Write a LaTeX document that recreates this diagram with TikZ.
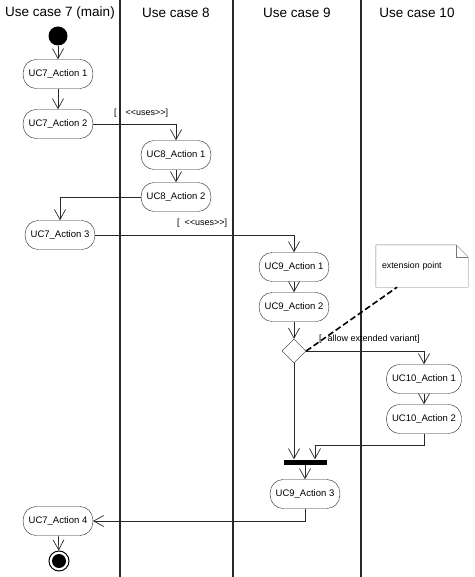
\documentclass[tikz,border=0pt]{standalone}
\usepackage{fontspec}
\setmainfont{Liberation Sans}
\usetikzlibrary{
  arrows.meta,
  shapes.geometric,
  positioning,
  calc
}
\definecolor{umlline}{RGB}{40,40,40}
\definecolor{umlnote}{RGB}{120,120,120}

\begin{document}
\begin{tikzpicture}[
  x=1pt, y=-1pt,
  act/.style={draw=umlline, fill=white, rounded corners=13pt, minimum height=29pt, inner xsep=5.5pt, font=\fontsize{9.5}{11}\selectfont},
  flow/.style={-{Straight Barb[length=10pt,width=11pt]}, umlline, line width=0.7pt},
  lane/.style={umlline, line width=1.3pt},
  hdr/.style={font=\fontsize{13.5}{16}\selectfont},
  grd/.style={font=\fontsize{9}{10}\selectfont, anchor=west, inner sep=1pt},
  initial/.style={circle, fill=black, minimum size=19pt, inner sep=0pt},
  fnode/.style={circle, draw=black, line width=1pt, minimum size=20pt, inner sep=0pt,
    path picture={\fill[black] (path picture bounding box.center) circle (7pt);}},
  link/.style={line width=1.6pt, dash pattern=on 6pt off 3pt}
]
  \useasboundingbox (0,0) rectangle (474,577);

  % swimlanes
  \foreach \x in {120,233,361} {
    \draw[lane] (\x,0) -- (\x,577);
  }
  \foreach \t/\x/\n in {{Use case 7 (main)}/60/7, {Use case 8}/176/8, {Use case 9}/297/9, {Use case 10}/417/10} {
    \node[hdr] (hd\n) at (\x,13) {\t};
  }

  % use case 7
  \node[initial] (start) at (58,36) {};
  \node[act] (uc7a1) at (58,74)  {UC7\_Action 1};
  \node[act] (uc7a2) at (58,124) {UC7\_Action 2};
  \node[act] (uc7a3) at (60,235) {UC7\_Action 3};
  \node[act] (uc7a4) at (58,521) {UC7\_Action 4};
  \node[fnode] (stop) at (59,561) {};

  % use case 8
  \node[act] (uc8a1) at (176,155) {UC8\_Action 1};
  \node[act] (uc8a2) at (176,197) {UC8\_Action 2};

  % use case 9
  \node[act] (uc9a1) at (294,267) {UC9\_Action 1};
  \node[act] (uc9a2) at (294,307) {UC9\_Action 2};
  \node[diamond, draw=umlline, fill=white, minimum size=24pt, inner sep=0pt] (dec) at (294,351) {};
  \node[fill=black, minimum width=43pt, minimum height=5pt, inner sep=0pt] (bar) at (305,462) {};
  \node[act] (uc9a3) at (305,494) {UC9\_Action 3};

  % use case 10
  \node[act] (uc10a1) at (424,379) {UC10\_Action 1};
  \node[act] (uc10a2) at (424,419) {UC10\_Action 2};

  % note
  \node[minimum width=92pt, minimum height=42pt, text width=80pt, inner xsep=6pt, align=left,
    font=\fontsize{8.8}{10}\selectfont] (note) at (422,266) {extension point};
  \draw[umlnote] (note.north west) -- ([xshift=-12pt]note.north east)
    -- ([yshift=-12pt]note.north east) -- (note.south east) -- (note.south west) -- cycle;
  \draw[umlnote] ([xshift=-12pt]note.north east) |- ([yshift=-12pt]note.north east);

  % flows
  \draw[flow] (start) -- (uc7a1);
  \draw[flow] (uc7a1) -- (uc7a2);
  \draw[flow] (uc7a2) -| (uc8a1);
  \draw[flow] (uc8a1) -- (uc8a2);
  \draw[flow] (uc8a2) -| (uc7a3);
  \draw[flow] (uc7a3) -| (uc9a1);
  \draw[flow] (uc9a1) -- (uc9a2);
  \draw[flow] (uc9a2) -- (dec);
  \draw[flow] (dec) -| (uc10a1);
  \draw[flow] (uc10a1) -- (uc10a2);
  \draw[flow] (uc10a2.south) -- ++(0,12) -| ([xshift=10pt]bar.north);
  \draw[flow] (dec.south) -- (dec.south |- bar.north);
  \draw[flow] (bar) -- (uc9a3);
  \draw[flow] (uc9a3.south) |- (uc7a4.east);
  \draw[flow] (uc7a4) -- (stop);

  % guards
  \node[grd] (g1) at (113,113) {[\hspace{9pt}{<}{<}uses{>}{>}]};
  \node[grd] (g2) at (176,223) {[\hspace{5pt}{<}{<}uses{>}{>}]};
  \node[grd] (g3) at (318,339) {[\hspace{6pt}allow extended variant]};

  % extension link
  \draw[link] (dec.east) -- ($(note.south west)!0.23!(note.south east)$);
\end{tikzpicture}
\end{document}
